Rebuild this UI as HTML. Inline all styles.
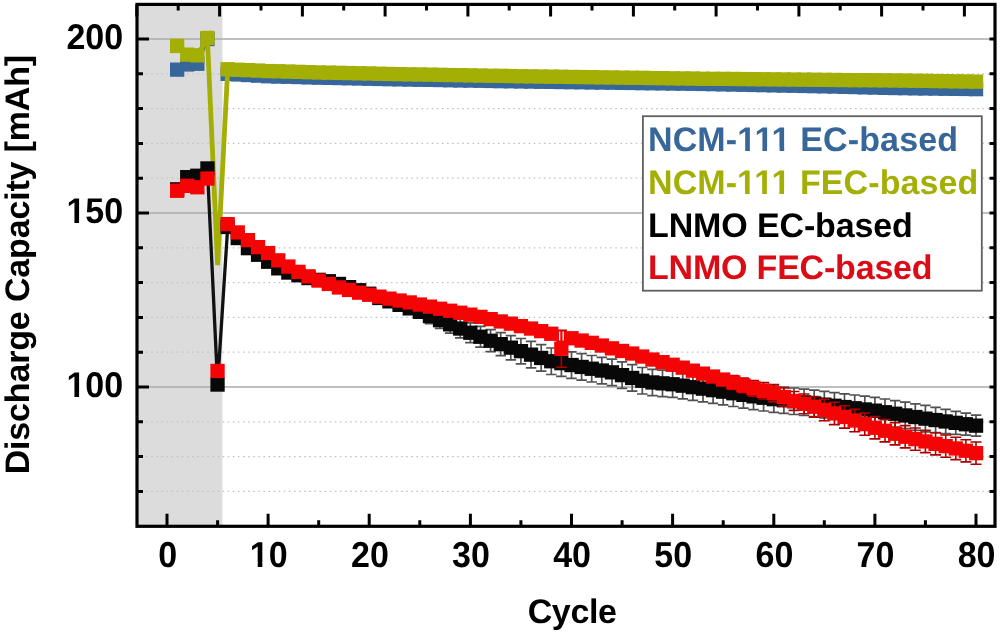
<!DOCTYPE html>
<html><head><meta charset="utf-8"><style>
html,body{margin:0;padding:0;background:#fff;}
svg{display:block;filter:blur(0.5px);}
.t{font-family:"Liberation Sans",Arial,sans-serif;font-weight:bold;text-rendering:geometricPrecision;}
</style></head><body>
<svg width="1000" height="634" viewBox="0 0 1000 634">
<rect x="137.0" y="4.4" width="85.4" height="521.9" fill="#dcdcdc"/>
<line x1="141.0" x2="995.0" y1="491.4" y2="491.4" stroke="#c2c2c2" stroke-width="1.3" stroke-dasharray="1.6 3.5"/>
<line x1="141.0" x2="995.0" y1="456.6" y2="456.6" stroke="#c2c2c2" stroke-width="1.3" stroke-dasharray="1.6 3.5"/>
<line x1="141.0" x2="995.0" y1="421.8" y2="421.8" stroke="#c2c2c2" stroke-width="1.3" stroke-dasharray="1.6 3.5"/>
<line x1="137.0" x2="995.0" y1="387.0" y2="387.0" stroke="#ababab" stroke-width="1.7"/>
<line x1="141.0" x2="995.0" y1="352.2" y2="352.2" stroke="#c2c2c2" stroke-width="1.3" stroke-dasharray="1.6 3.5"/>
<line x1="141.0" x2="995.0" y1="317.4" y2="317.4" stroke="#c2c2c2" stroke-width="1.3" stroke-dasharray="1.6 3.5"/>
<line x1="141.0" x2="995.0" y1="282.6" y2="282.6" stroke="#c2c2c2" stroke-width="1.3" stroke-dasharray="1.6 3.5"/>
<line x1="141.0" x2="995.0" y1="247.8" y2="247.8" stroke="#c2c2c2" stroke-width="1.3" stroke-dasharray="1.6 3.5"/>
<line x1="137.0" x2="995.0" y1="213.0" y2="213.0" stroke="#ababab" stroke-width="1.7"/>
<line x1="141.0" x2="995.0" y1="178.2" y2="178.2" stroke="#c2c2c2" stroke-width="1.3" stroke-dasharray="1.6 3.5"/>
<line x1="141.0" x2="995.0" y1="143.4" y2="143.4" stroke="#c2c2c2" stroke-width="1.3" stroke-dasharray="1.6 3.5"/>
<line x1="141.0" x2="995.0" y1="108.6" y2="108.6" stroke="#c2c2c2" stroke-width="1.3" stroke-dasharray="1.6 3.5"/>
<line x1="141.0" x2="995.0" y1="73.8" y2="73.8" stroke="#c2c2c2" stroke-width="1.3" stroke-dasharray="1.6 3.5"/>
<line x1="137.0" x2="995.0" y1="39.0" y2="39.0" stroke="#ababab" stroke-width="1.7"/>
<g fill="#37679a"><rect x="170.0" y="62.5" width="14.3" height="14.3"/><rect x="180.1" y="57.3" width="14.3" height="14.3"/><rect x="190.2" y="56.6" width="14.3" height="14.3"/><rect x="200.3" y="31.9" width="14.3" height="14.3"/><rect x="220.5" y="66.7" width="14.3" height="14.3"/><rect x="230.6" y="67.3" width="14.3" height="14.3"/><rect x="240.8" y="67.9" width="14.3" height="14.3"/><rect x="250.9" y="68.5" width="14.3" height="14.3"/><rect x="261.0" y="69.1" width="14.3" height="14.3"/><rect x="271.1" y="69.4" width="14.3" height="14.3"/><rect x="281.2" y="69.6" width="14.3" height="14.3"/><rect x="291.3" y="69.9" width="14.3" height="14.3"/><rect x="301.4" y="70.2" width="14.3" height="14.3"/><rect x="311.5" y="70.5" width="14.3" height="14.3"/><rect x="321.7" y="70.7" width="14.3" height="14.3"/><rect x="331.8" y="70.9" width="14.3" height="14.3"/><rect x="341.9" y="71.1" width="14.3" height="14.3"/><rect x="352.0" y="71.3" width="14.3" height="14.3"/><rect x="362.1" y="71.6" width="14.3" height="14.3"/><rect x="372.2" y="71.8" width="14.3" height="14.3"/><rect x="382.3" y="72.0" width="14.3" height="14.3"/><rect x="392.4" y="72.2" width="14.3" height="14.3"/><rect x="402.6" y="72.4" width="14.3" height="14.3"/><rect x="412.7" y="72.6" width="14.3" height="14.3"/><rect x="422.8" y="72.7" width="14.3" height="14.3"/><rect x="432.9" y="72.9" width="14.3" height="14.3"/><rect x="443.0" y="73.1" width="14.3" height="14.3"/><rect x="453.1" y="73.3" width="14.3" height="14.3"/><rect x="463.2" y="73.4" width="14.3" height="14.3"/><rect x="473.3" y="73.6" width="14.3" height="14.3"/><rect x="483.5" y="73.8" width="14.3" height="14.3"/><rect x="493.6" y="74.0" width="14.3" height="14.3"/><rect x="503.7" y="74.1" width="14.3" height="14.3"/><rect x="513.8" y="74.3" width="14.3" height="14.3"/><rect x="523.9" y="74.4" width="14.3" height="14.3"/><rect x="534.0" y="74.6" width="14.3" height="14.3"/><rect x="544.1" y="74.7" width="14.3" height="14.3"/><rect x="554.2" y="74.9" width="14.3" height="14.3"/><rect x="564.4" y="75.0" width="14.3" height="14.3"/><rect x="574.5" y="75.1" width="14.3" height="14.3"/><rect x="584.6" y="75.3" width="14.3" height="14.3"/><rect x="594.7" y="75.4" width="14.3" height="14.3"/><rect x="604.8" y="75.5" width="14.3" height="14.3"/><rect x="614.9" y="75.7" width="14.3" height="14.3"/><rect x="625.0" y="75.8" width="14.3" height="14.3"/><rect x="635.1" y="76.0" width="14.3" height="14.3"/><rect x="645.3" y="76.1" width="14.3" height="14.3"/><rect x="655.4" y="76.2" width="14.3" height="14.3"/><rect x="665.5" y="76.4" width="14.3" height="14.3"/><rect x="675.6" y="76.5" width="14.3" height="14.3"/><rect x="685.7" y="76.6" width="14.3" height="14.3"/><rect x="695.8" y="76.8" width="14.3" height="14.3"/><rect x="705.9" y="77.0" width="14.3" height="14.3"/><rect x="716.0" y="77.2" width="14.3" height="14.3"/><rect x="726.2" y="77.4" width="14.3" height="14.3"/><rect x="736.3" y="77.6" width="14.3" height="14.3"/><rect x="746.4" y="77.8" width="14.3" height="14.3"/><rect x="756.5" y="78.0" width="14.3" height="14.3"/><rect x="766.6" y="78.2" width="14.3" height="14.3"/><rect x="776.7" y="78.4" width="14.3" height="14.3"/><rect x="786.8" y="78.6" width="14.3" height="14.3"/><rect x="796.9" y="78.8" width="14.3" height="14.3"/><rect x="807.1" y="79.0" width="14.3" height="14.3"/><rect x="817.2" y="79.2" width="14.3" height="14.3"/><rect x="827.3" y="79.4" width="14.3" height="14.3"/><rect x="837.4" y="79.7" width="14.3" height="14.3"/><rect x="847.5" y="79.9" width="14.3" height="14.3"/><rect x="857.6" y="80.2" width="14.3" height="14.3"/><rect x="867.7" y="80.4" width="14.3" height="14.3"/><rect x="877.8" y="80.7" width="14.3" height="14.3"/><rect x="888.0" y="80.9" width="14.3" height="14.3"/><rect x="898.1" y="81.0" width="14.3" height="14.3"/><rect x="908.2" y="81.2" width="14.3" height="14.3"/><rect x="918.3" y="81.3" width="14.3" height="14.3"/><rect x="928.4" y="81.4" width="14.3" height="14.3"/><rect x="938.5" y="81.6" width="14.3" height="14.3"/><rect x="948.6" y="81.7" width="14.3" height="14.3"/><rect x="958.7" y="81.8" width="14.3" height="14.3"/><rect x="968.9" y="82.0" width="14.3" height="14.3"/></g>
<polyline points="177.1,69.6 187.2,64.4 197.3,63.7 207.4,39.0" fill="none" stroke="#37679a" stroke-width="4.0" stroke-linejoin="miter" stroke-miterlimit="10"/>
<polyline points="177.1,46.0 187.2,54.7 197.3,55.4 207.4,38.0 217.6,265.2 227.7,69.3" fill="none" stroke="#a4af05" stroke-width="4.8" stroke-linejoin="miter" stroke-miterlimit="10"/>
<g fill="#a4af05"><rect x="170.0" y="38.8" width="14.3" height="14.3"/><rect x="180.1" y="47.5" width="14.3" height="14.3"/><rect x="190.2" y="48.2" width="14.3" height="14.3"/><rect x="200.3" y="30.8" width="14.3" height="14.3"/><rect x="220.5" y="62.1" width="14.3" height="14.3"/><rect x="230.6" y="62.6" width="14.3" height="14.3"/><rect x="240.8" y="63.0" width="14.3" height="14.3"/><rect x="250.9" y="63.4" width="14.3" height="14.3"/><rect x="261.0" y="63.9" width="14.3" height="14.3"/><rect x="271.1" y="64.1" width="14.3" height="14.3"/><rect x="281.2" y="64.4" width="14.3" height="14.3"/><rect x="291.3" y="64.7" width="14.3" height="14.3"/><rect x="301.4" y="65.0" width="14.3" height="14.3"/><rect x="311.5" y="65.3" width="14.3" height="14.3"/><rect x="321.7" y="65.5" width="14.3" height="14.3"/><rect x="331.8" y="65.7" width="14.3" height="14.3"/><rect x="341.9" y="65.9" width="14.3" height="14.3"/><rect x="352.0" y="66.1" width="14.3" height="14.3"/><rect x="362.1" y="66.3" width="14.3" height="14.3"/><rect x="372.2" y="66.6" width="14.3" height="14.3"/><rect x="382.3" y="66.8" width="14.3" height="14.3"/><rect x="392.4" y="67.0" width="14.3" height="14.3"/><rect x="402.6" y="67.2" width="14.3" height="14.3"/><rect x="412.7" y="67.3" width="14.3" height="14.3"/><rect x="422.8" y="67.5" width="14.3" height="14.3"/><rect x="432.9" y="67.7" width="14.3" height="14.3"/><rect x="443.0" y="67.9" width="14.3" height="14.3"/><rect x="453.1" y="68.0" width="14.3" height="14.3"/><rect x="463.2" y="68.2" width="14.3" height="14.3"/><rect x="473.3" y="68.4" width="14.3" height="14.3"/><rect x="483.5" y="68.6" width="14.3" height="14.3"/><rect x="493.6" y="68.7" width="14.3" height="14.3"/><rect x="503.7" y="68.9" width="14.3" height="14.3"/><rect x="513.8" y="69.1" width="14.3" height="14.3"/><rect x="523.9" y="69.2" width="14.3" height="14.3"/><rect x="534.0" y="69.4" width="14.3" height="14.3"/><rect x="544.1" y="69.5" width="14.3" height="14.3"/><rect x="554.2" y="69.6" width="14.3" height="14.3"/><rect x="564.4" y="69.8" width="14.3" height="14.3"/><rect x="574.5" y="69.9" width="14.3" height="14.3"/><rect x="584.6" y="70.0" width="14.3" height="14.3"/><rect x="594.7" y="70.2" width="14.3" height="14.3"/><rect x="604.8" y="70.3" width="14.3" height="14.3"/><rect x="614.9" y="70.5" width="14.3" height="14.3"/><rect x="625.0" y="70.6" width="14.3" height="14.3"/><rect x="635.1" y="70.7" width="14.3" height="14.3"/><rect x="645.3" y="70.9" width="14.3" height="14.3"/><rect x="655.4" y="71.0" width="14.3" height="14.3"/><rect x="665.5" y="71.2" width="14.3" height="14.3"/><rect x="675.6" y="71.3" width="14.3" height="14.3"/><rect x="685.7" y="71.4" width="14.3" height="14.3"/><rect x="695.8" y="71.6" width="14.3" height="14.3"/><rect x="705.9" y="71.7" width="14.3" height="14.3"/><rect x="716.0" y="71.7" width="14.3" height="14.3"/><rect x="726.2" y="71.8" width="14.3" height="14.3"/><rect x="736.3" y="71.9" width="14.3" height="14.3"/><rect x="746.4" y="72.0" width="14.3" height="14.3"/><rect x="756.5" y="72.1" width="14.3" height="14.3"/><rect x="766.6" y="72.2" width="14.3" height="14.3"/><rect x="776.7" y="72.3" width="14.3" height="14.3"/><rect x="786.8" y="72.4" width="14.3" height="14.3"/><rect x="796.9" y="72.5" width="14.3" height="14.3"/><rect x="807.1" y="72.6" width="14.3" height="14.3"/><rect x="817.2" y="72.7" width="14.3" height="14.3"/><rect x="827.3" y="72.8" width="14.3" height="14.3"/><rect x="837.4" y="72.9" width="14.3" height="14.3"/><rect x="847.5" y="73.0" width="14.3" height="14.3"/><rect x="857.6" y="73.0" width="14.3" height="14.3"/><rect x="867.7" y="73.1" width="14.3" height="14.3"/><rect x="877.8" y="73.2" width="14.3" height="14.3"/><rect x="888.0" y="73.3" width="14.3" height="14.3"/><rect x="898.1" y="73.4" width="14.3" height="14.3"/><rect x="908.2" y="73.6" width="14.3" height="14.3"/><rect x="918.3" y="73.7" width="14.3" height="14.3"/><rect x="928.4" y="73.9" width="14.3" height="14.3"/><rect x="938.5" y="74.0" width="14.3" height="14.3"/><rect x="948.6" y="74.2" width="14.3" height="14.3"/><rect x="958.7" y="74.3" width="14.3" height="14.3"/><rect x="968.9" y="74.5" width="14.3" height="14.3"/></g>
<polyline points="177.1,189.3 187.2,177.2 197.3,175.8 207.4,168.5 217.6,384.6 227.7,226.9" fill="none" stroke="#111" stroke-width="3.3" stroke-linejoin="miter" stroke-miterlimit="10"/>
<path d="M429.9 308.4V323.7M424.7 308.4h10.5M424.7 323.7h10.5M440.0 312.0V328.4M434.8 312.0h10.5M434.8 328.4h10.5M450.2 315.6V333.1M444.9 315.6h10.5M444.9 333.1h10.5M460.3 319.2V337.9M455.0 319.2h10.5M455.0 337.9h10.5M470.4 322.8V342.6M465.1 322.8h10.5M465.1 342.6h10.5M480.5 326.3V347.2M475.2 326.3h10.5M475.2 347.2h10.5M490.6 329.7V351.7M485.4 329.7h10.5M485.4 351.7h10.5M500.7 332.6V355.7M495.5 332.6h10.5M495.5 355.7h10.5M510.8 335.6V359.8M505.6 335.6h10.5M505.6 359.8h10.5M520.9 338.5V363.8M515.7 338.5h10.5M515.7 363.8h10.5M531.0 341.4V367.9M525.8 341.4h10.5M525.8 367.9h10.5M541.2 344.7V371.2M535.9 344.7h10.5M535.9 371.2h10.5M551.3 348.0V374.5M546.0 348.0h10.5M546.0 374.5h10.5M561.4 349.9V376.4M556.1 349.9h10.5M556.1 376.4h10.5M571.5 351.9V378.3M566.2 351.9h10.5M566.2 378.3h10.5M581.6 353.7V380.1M576.4 353.7h10.5M576.4 380.1h10.5M591.7 355.5V382.0M586.5 355.5h10.5M586.5 382.0h10.5M601.8 357.3V383.8M596.6 357.3h10.5M596.6 383.8h10.5M612.0 359.2V385.6M606.7 359.2h10.5M606.7 385.6h10.5M622.1 361.9V388.4M616.8 361.9h10.5M616.8 388.4h10.5M632.2 364.7V391.2M626.9 364.7h10.5M626.9 391.2h10.5M642.3 367.5V394.0M637.0 367.5h10.5M637.0 394.0h10.5M652.4 369.3V395.7M647.2 369.3h10.5M647.2 395.7h10.5M662.5 370.1V396.6M657.3 370.1h10.5M657.3 396.6h10.5M672.6 371.0V397.4M667.4 371.0h10.5M667.4 397.4h10.5M682.7 372.5V398.9M677.5 372.5h10.5M677.5 398.9h10.5M692.9 374.0V400.4M687.6 374.0h10.5M687.6 400.4h10.5M703.0 375.4V401.9M697.7 375.4h10.5M697.7 401.9h10.5M713.1 376.9V403.4M707.8 376.9h10.5M707.8 403.4h10.5M723.2 378.5V404.9M717.9 378.5h10.5M717.9 404.9h10.5M733.3 380.0V406.5M728.1 380.0h10.5M728.1 406.5h10.5M743.4 381.6V408.1M738.2 381.6h10.5M738.2 408.1h10.5M753.5 383.2V409.6M748.3 383.2h10.5M748.3 409.6h10.5M763.6 384.6V411.0M758.4 384.6h10.5M758.4 411.0h10.5M773.8 386.0V412.4M768.5 386.0h10.5M768.5 412.4h10.5M783.9 387.0V413.4M778.6 387.0h10.5M778.6 413.4h10.5M794.0 388.0V414.5M788.7 388.0h10.5M788.7 414.5h10.5M804.1 389.1V415.5M798.8 389.1h10.5M798.8 415.5h10.5M814.2 390.2V416.7M809.0 390.2h10.5M809.0 416.7h10.5M824.3 391.4V417.9M819.1 391.4h10.5M819.1 417.9h10.5M834.4 392.6V419.0M829.2 392.6h10.5M829.2 419.0h10.5M844.5 393.8V420.2M839.3 393.8h10.5M839.3 420.2h10.5M854.7 395.0V421.5M849.4 395.0h10.5M849.4 421.5h10.5M864.8 396.2V422.7M859.5 396.2h10.5M859.5 422.7h10.5M874.9 397.4V423.9M869.6 397.4h10.5M869.6 423.9h10.5M885.0 399.0V425.5M879.7 399.0h10.5M879.7 425.5h10.5M895.1 400.6V427.0M889.9 400.6h10.5M889.9 427.0h10.5M905.2 402.2V428.6M900.0 402.2h10.5M900.0 428.6h10.5M915.3 403.8V430.3M910.1 403.8h10.5M910.1 430.3h10.5M925.4 405.4V431.9M920.2 405.4h10.5M920.2 431.9h10.5M935.6 407.4V432.7M930.3 407.4h10.5M930.3 432.7h10.5M945.7 409.3V433.6M940.4 409.3h10.5M940.4 433.6h10.5M955.8 411.3V434.4M950.5 411.3h10.5M950.5 434.4h10.5M965.9 413.2V435.2M960.6 413.2h10.5M960.6 435.2h10.5M976.0 415.2V436.1M970.8 415.2h10.5M970.8 436.1h10.5" stroke="#505050" stroke-width="1.7" fill="none"/>
<g fill="#080808"><rect x="170.0" y="182.2" width="14.3" height="14.3"/><rect x="180.1" y="170.0" width="14.3" height="14.3"/><rect x="190.2" y="168.6" width="14.3" height="14.3"/><rect x="200.3" y="161.3" width="14.3" height="14.3"/><rect x="210.4" y="377.4" width="14.3" height="14.3"/><rect x="220.5" y="219.8" width="14.3" height="14.3"/><rect x="230.6" y="230.9" width="14.3" height="14.3"/><rect x="240.8" y="241.0" width="14.3" height="14.3"/><rect x="250.9" y="247.6" width="14.3" height="14.3"/><rect x="261.0" y="254.6" width="14.3" height="14.3"/><rect x="271.1" y="261.2" width="14.3" height="14.3"/><rect x="281.2" y="265.4" width="14.3" height="14.3"/><rect x="291.3" y="268.1" width="14.3" height="14.3"/><rect x="301.4" y="270.9" width="14.3" height="14.3"/><rect x="311.5" y="272.7" width="14.3" height="14.3"/><rect x="321.7" y="274.1" width="14.3" height="14.3"/><rect x="331.8" y="276.8" width="14.3" height="14.3"/><rect x="341.9" y="280.0" width="14.3" height="14.3"/><rect x="352.0" y="283.1" width="14.3" height="14.3"/><rect x="362.1" y="286.6" width="14.3" height="14.3"/><rect x="372.2" y="290.8" width="14.3" height="14.3"/><rect x="382.3" y="294.2" width="14.3" height="14.3"/><rect x="392.4" y="297.7" width="14.3" height="14.3"/><rect x="402.6" y="301.2" width="14.3" height="14.3"/><rect x="412.7" y="304.7" width="14.3" height="14.3"/><rect x="422.8" y="308.9" width="14.3" height="14.3"/><rect x="432.9" y="313.0" width="14.3" height="14.3"/><rect x="443.0" y="317.2" width="14.3" height="14.3"/><rect x="453.1" y="321.4" width="14.3" height="14.3"/><rect x="463.2" y="325.6" width="14.3" height="14.3"/><rect x="473.3" y="329.6" width="14.3" height="14.3"/><rect x="483.5" y="333.6" width="14.3" height="14.3"/><rect x="493.6" y="337.0" width="14.3" height="14.3"/><rect x="503.7" y="340.5" width="14.3" height="14.3"/><rect x="513.8" y="344.0" width="14.3" height="14.3"/><rect x="523.9" y="347.5" width="14.3" height="14.3"/><rect x="534.0" y="350.8" width="14.3" height="14.3"/><rect x="544.1" y="354.1" width="14.3" height="14.3"/><rect x="554.2" y="356.0" width="14.3" height="14.3"/><rect x="564.4" y="357.9" width="14.3" height="14.3"/><rect x="574.5" y="359.8" width="14.3" height="14.3"/><rect x="584.6" y="361.6" width="14.3" height="14.3"/><rect x="594.7" y="363.4" width="14.3" height="14.3"/><rect x="604.8" y="365.2" width="14.3" height="14.3"/><rect x="614.9" y="368.0" width="14.3" height="14.3"/><rect x="625.0" y="370.8" width="14.3" height="14.3"/><rect x="635.1" y="373.6" width="14.3" height="14.3"/><rect x="645.3" y="375.3" width="14.3" height="14.3"/><rect x="655.4" y="376.2" width="14.3" height="14.3"/><rect x="665.5" y="377.1" width="14.3" height="14.3"/><rect x="675.6" y="378.5" width="14.3" height="14.3"/><rect x="685.7" y="380.0" width="14.3" height="14.3"/><rect x="695.8" y="381.5" width="14.3" height="14.3"/><rect x="705.9" y="383.0" width="14.3" height="14.3"/><rect x="716.0" y="384.5" width="14.3" height="14.3"/><rect x="726.2" y="386.1" width="14.3" height="14.3"/><rect x="736.3" y="387.7" width="14.3" height="14.3"/><rect x="746.4" y="389.2" width="14.3" height="14.3"/><rect x="756.5" y="390.6" width="14.3" height="14.3"/><rect x="766.6" y="392.0" width="14.3" height="14.3"/><rect x="776.7" y="393.1" width="14.3" height="14.3"/><rect x="786.8" y="394.1" width="14.3" height="14.3"/><rect x="796.9" y="395.2" width="14.3" height="14.3"/><rect x="807.1" y="396.3" width="14.3" height="14.3"/><rect x="817.2" y="397.5" width="14.3" height="14.3"/><rect x="827.3" y="398.6" width="14.3" height="14.3"/><rect x="837.4" y="399.9" width="14.3" height="14.3"/><rect x="847.5" y="401.1" width="14.3" height="14.3"/><rect x="857.6" y="402.3" width="14.3" height="14.3"/><rect x="867.7" y="403.5" width="14.3" height="14.3"/><rect x="877.8" y="405.1" width="14.3" height="14.3"/><rect x="888.0" y="406.6" width="14.3" height="14.3"/><rect x="898.1" y="408.3" width="14.3" height="14.3"/><rect x="908.2" y="409.9" width="14.3" height="14.3"/><rect x="918.3" y="411.5" width="14.3" height="14.3"/><rect x="928.4" y="412.9" width="14.3" height="14.3"/><rect x="938.5" y="414.3" width="14.3" height="14.3"/><rect x="948.6" y="415.7" width="14.3" height="14.3"/><rect x="958.7" y="417.1" width="14.3" height="14.3"/><rect x="968.9" y="418.5" width="14.3" height="14.3"/></g>
<path d="M561.4 330.3V367.2M555.9 330.3h11M555.9 367.2h11M733.3 375.5V389.4M727.8 375.5h11M727.8 389.4h11M743.4 378.1V392.8M737.9 378.1h11M737.9 392.8h11M753.5 380.6V396.2M748.0 380.6h11M748.0 396.2h11M763.6 382.6V399.0M758.1 382.6h11M758.1 399.0h11M773.8 384.6V401.9M768.2 384.6h11M768.2 401.9h11M783.9 388.0V406.1M778.4 388.0h11M778.4 406.1h11M794.0 391.5V410.4M788.5 391.5h11M788.5 410.4h11M804.1 394.0V413.7M798.6 394.0h11M798.6 413.7h11M814.2 396.5V417.1M808.7 396.5h11M808.7 417.1h11M824.3 399.2V420.7M818.8 399.2h11M818.8 420.7h11M834.4 402.3V424.6M828.9 402.3h11M828.9 424.6h11M844.5 405.8V428.1M839.0 405.8h11M839.0 428.1h11M854.7 409.4V431.7M849.2 409.4h11M849.2 431.7h11M864.8 413.0V435.3M859.3 413.0h11M859.3 435.3h11M874.9 416.6V438.9M869.4 416.6h11M869.4 438.9h11M885.0 419.6V441.9M879.5 419.6h11M879.5 441.9h11M895.1 422.6V444.9M889.6 422.6h11M889.6 444.9h11M905.2 425.6V447.9M899.7 425.6h11M899.7 447.9h11M915.3 428.0V450.2M909.8 428.0h11M909.8 450.2h11M925.4 430.3V452.6M919.9 430.3h11M919.9 452.6h11M935.6 432.7V454.9M930.1 432.7h11M930.1 454.9h11M945.7 435.0V457.3M940.2 435.0h11M940.2 457.3h11M955.8 437.3V459.6M950.3 437.3h11M950.3 459.6h11M965.9 439.7V461.9M960.4 439.7h11M960.4 461.9h11M976.0 442.0V464.3M970.5 442.0h11M970.5 464.3h11" stroke="#a00" stroke-width="1.6" fill="none"/>
<rect x="556.4" y="330.6" width="10" height="18.1" fill="#f40404"/>
<path d="M559.6 331.6v9M563.2 331.6v9" stroke="#fff" stroke-width="1.3"/>
<g fill="#f40404"><rect x="170.0" y="183.6" width="14.3" height="14.3"/><rect x="180.1" y="178.7" width="14.3" height="14.3"/><rect x="190.2" y="180.1" width="14.3" height="14.3"/><rect x="200.3" y="171.4" width="14.3" height="14.3"/><rect x="210.4" y="363.8" width="14.3" height="14.3"/><rect x="220.5" y="217.0" width="14.3" height="14.3"/><rect x="230.6" y="225.3" width="14.3" height="14.3"/><rect x="240.8" y="233.0" width="14.3" height="14.3"/><rect x="250.9" y="240.0" width="14.3" height="14.3"/><rect x="261.0" y="245.9" width="14.3" height="14.3"/><rect x="271.1" y="253.2" width="14.3" height="14.3"/><rect x="281.2" y="259.4" width="14.3" height="14.3"/><rect x="291.3" y="264.7" width="14.3" height="14.3"/><rect x="301.4" y="269.2" width="14.3" height="14.3"/><rect x="311.5" y="273.4" width="14.3" height="14.3"/><rect x="321.7" y="276.8" width="14.3" height="14.3"/><rect x="331.8" y="280.3" width="14.3" height="14.3"/><rect x="341.9" y="282.8" width="14.3" height="14.3"/><rect x="352.0" y="285.5" width="14.3" height="14.3"/><rect x="362.1" y="287.6" width="14.3" height="14.3"/><rect x="372.2" y="289.5" width="14.3" height="14.3"/><rect x="382.3" y="291.5" width="14.3" height="14.3"/><rect x="392.4" y="293.4" width="14.3" height="14.3"/><rect x="402.6" y="295.3" width="14.3" height="14.3"/><rect x="412.7" y="297.4" width="14.3" height="14.3"/><rect x="422.8" y="299.5" width="14.3" height="14.3"/><rect x="432.9" y="301.6" width="14.3" height="14.3"/><rect x="443.0" y="303.6" width="14.3" height="14.3"/><rect x="453.1" y="305.6" width="14.3" height="14.3"/><rect x="463.2" y="307.5" width="14.3" height="14.3"/><rect x="473.3" y="309.7" width="14.3" height="14.3"/><rect x="483.5" y="312.0" width="14.3" height="14.3"/><rect x="493.6" y="314.3" width="14.3" height="14.3"/><rect x="503.7" y="316.5" width="14.3" height="14.3"/><rect x="513.8" y="319.0" width="14.3" height="14.3"/><rect x="523.9" y="321.4" width="14.3" height="14.3"/><rect x="534.0" y="324.0" width="14.3" height="14.3"/><rect x="544.1" y="326.6" width="14.3" height="14.3"/><rect x="554.2" y="341.6" width="14.3" height="14.3"/><rect x="564.4" y="331.1" width="14.3" height="14.3"/><rect x="574.5" y="333.4" width="14.3" height="14.3"/><rect x="584.6" y="335.7" width="14.3" height="14.3"/><rect x="594.7" y="338.4" width="14.3" height="14.3"/><rect x="604.8" y="341.2" width="14.3" height="14.3"/><rect x="614.9" y="343.8" width="14.3" height="14.3"/><rect x="625.0" y="346.4" width="14.3" height="14.3"/><rect x="635.1" y="349.4" width="14.3" height="14.3"/><rect x="645.3" y="352.4" width="14.3" height="14.3"/><rect x="655.4" y="355.0" width="14.3" height="14.3"/><rect x="665.5" y="357.6" width="14.3" height="14.3"/><rect x="675.6" y="360.5" width="14.3" height="14.3"/><rect x="685.7" y="363.5" width="14.3" height="14.3"/><rect x="695.8" y="366.5" width="14.3" height="14.3"/><rect x="705.9" y="369.4" width="14.3" height="14.3"/><rect x="716.0" y="372.4" width="14.3" height="14.3"/><rect x="726.2" y="375.3" width="14.3" height="14.3"/><rect x="736.3" y="378.3" width="14.3" height="14.3"/><rect x="746.4" y="381.2" width="14.3" height="14.3"/><rect x="756.5" y="383.7" width="14.3" height="14.3"/><rect x="766.6" y="386.1" width="14.3" height="14.3"/><rect x="776.7" y="389.9" width="14.3" height="14.3"/><rect x="786.8" y="393.8" width="14.3" height="14.3"/><rect x="796.9" y="396.7" width="14.3" height="14.3"/><rect x="807.1" y="399.6" width="14.3" height="14.3"/><rect x="817.2" y="402.8" width="14.3" height="14.3"/><rect x="827.3" y="406.3" width="14.3" height="14.3"/><rect x="837.4" y="409.8" width="14.3" height="14.3"/><rect x="847.5" y="413.4" width="14.3" height="14.3"/><rect x="857.6" y="417.0" width="14.3" height="14.3"/><rect x="867.7" y="420.6" width="14.3" height="14.3"/><rect x="877.8" y="423.6" width="14.3" height="14.3"/><rect x="888.0" y="426.6" width="14.3" height="14.3"/><rect x="898.1" y="429.6" width="14.3" height="14.3"/><rect x="908.2" y="432.0" width="14.3" height="14.3"/><rect x="918.3" y="434.3" width="14.3" height="14.3"/><rect x="928.4" y="436.7" width="14.3" height="14.3"/><rect x="938.5" y="439.0" width="14.3" height="14.3"/><rect x="948.6" y="441.3" width="14.3" height="14.3"/><rect x="958.7" y="443.6" width="14.3" height="14.3"/><rect x="968.9" y="446.0" width="14.3" height="14.3"/></g>
<path d="M167.0 526.3v-12.5M217.6 526.3v-6M268.1 526.3v-12.5M318.7 526.3v-6M369.2 526.3v-12.5M419.8 526.3v-6M470.4 526.3v-12.5M520.9 526.3v-6M571.5 526.3v-12.5M622.1 526.3v-6M672.6 526.3v-12.5M723.2 526.3v-6M773.8 526.3v-12.5M824.3 526.3v-6M874.9 526.3v-12.5M925.4 526.3v-6M976.0 526.3v-12.5M136.8 4.4v12M178.2 4.4v6.2M219.6 4.4v12M261.0 4.4v6.2M302.4 4.4v12M343.7 4.4v6.2M385.1 4.4v12M426.5 4.4v6.2M467.9 4.4v12M509.2 4.4v6.2M550.6 4.4v12M592.0 4.4v6.2M633.4 4.4v12M674.7 4.4v6.2M716.1 4.4v12M757.5 4.4v6.2M798.9 4.4v12M840.2 4.4v6.2M881.6 4.4v12M923.0 4.4v6.2M964.4 4.4v12M137.0 491.4h6M995.0 491.4h-5.5M137.0 456.6h6M995.0 456.6h-5.5M137.0 421.8h6M995.0 421.8h-5.5M137.0 387.0h12M995.0 387.0h-5.5M137.0 352.2h6M995.0 352.2h-5.5M137.0 317.4h6M995.0 317.4h-5.5M137.0 282.6h6M995.0 282.6h-5.5M137.0 247.8h6M995.0 247.8h-5.5M137.0 213.0h12M995.0 213.0h-5.5M137.0 178.2h6M995.0 178.2h-5.5M137.0 143.4h6M995.0 143.4h-5.5M137.0 108.6h6M995.0 108.6h-5.5M137.0 73.8h6M995.0 73.8h-5.5M137.0 39.0h12M995.0 39.0h-5.5" stroke="#000" stroke-width="3" fill="none"/>
<rect x="137.0" y="4.4" width="858.0" height="521.9" fill="none" stroke="#000" stroke-width="3.2"/>
<rect x="642.9" y="116.2" width="338.9" height="174.5" fill="#fff" stroke="#606060" stroke-width="1.8"/>
<g transform="translate(648 151)"><text id="t1" x="0" y="0" class="t" font-size="34" fill="#37679a" textLength="310">NCM-111 EC-based</text><rect x="89.94" y="-3.98" width="7.27" height="5.06" fill="#fff"/><rect x="101.87" y="-3.98" width="6.08" height="5.06" fill="#fff"/><rect x="107.11" y="-3.98" width="7.27" height="5.06" fill="#fff"/><rect x="119.04" y="-3.98" width="6.08" height="5.06" fill="#fff"/><rect x="124.28" y="-3.98" width="7.27" height="5.06" fill="#fff"/><rect x="136.21" y="-3.98" width="6.08" height="5.06" fill="#fff"/></g>
<g transform="translate(648 194.0)"><text id="t2" x="0" y="0" class="t" font-size="34" fill="#a4af05" textLength="330.3">NCM-111 FEC-based</text><rect x="89.79" y="-3.98" width="7.27" height="5.06" fill="#fff"/><rect x="101.72" y="-3.98" width="6.08" height="5.06" fill="#fff"/><rect x="106.92" y="-3.98" width="7.27" height="5.06" fill="#fff"/><rect x="118.85" y="-3.98" width="6.08" height="5.06" fill="#fff"/><rect x="124.05" y="-3.98" width="7.27" height="5.06" fill="#fff"/><rect x="135.99" y="-3.98" width="6.08" height="5.06" fill="#fff"/></g>
<g transform="translate(648 236.6)"><text id="t3" x="0" y="0" class="t" font-size="34" fill="#000" textLength="264.9">LNMO EC-based</text></g>
<g transform="translate(648 279.0)"><text id="t4" x="0" y="0" class="t" font-size="34" fill="#dc0c16" textLength="284.6">LNMO FEC-based</text></g>
<g transform="translate(167.6 566.6) scale(1 1.06)"><text id="t5" x="0" y="0" class="t" font-size="34" text-anchor="middle">0</text></g>
<g transform="translate(268.7 566.6) scale(1 1.06)"><text id="t6" x="0" y="0" class="t" font-size="34" text-anchor="middle">10</text><rect x="-18.25" y="-3.98" width="7.27" height="5.06" fill="#fff"/><rect x="-6.31" y="-3.98" width="6.08" height="5.06" fill="#fff"/></g>
<g transform="translate(369.9 566.6) scale(1 1.06)"><text id="t7" x="0" y="0" class="t" font-size="34" text-anchor="middle">20</text></g>
<g transform="translate(471.0 566.6) scale(1 1.06)"><text id="t8" x="0" y="0" class="t" font-size="34" text-anchor="middle">30</text></g>
<g transform="translate(572.1 566.6) scale(1 1.06)"><text id="t9" x="0" y="0" class="t" font-size="34" text-anchor="middle">40</text></g>
<g transform="translate(673.2 566.6) scale(1 1.06)"><text id="t10" x="0" y="0" class="t" font-size="34" text-anchor="middle">50</text></g>
<g transform="translate(774.4 566.6) scale(1 1.06)"><text id="t11" x="0" y="0" class="t" font-size="34" text-anchor="middle">60</text></g>
<g transform="translate(875.5 566.6) scale(1 1.06)"><text id="t12" x="0" y="0" class="t" font-size="34" text-anchor="middle">70</text></g>
<g transform="translate(976.6 566.6) scale(1 1.06)"><text id="t13" x="0" y="0" class="t" font-size="34" text-anchor="middle">80</text></g>
<g transform="translate(123.2 397.2) scale(1 1.05)"><text id="t14" x="0" y="0" class="t" font-size="34" text-anchor="end">100</text><rect x="-56.07" y="-3.98" width="7.27" height="5.06" fill="#fff"/><rect x="-44.13" y="-3.98" width="6.08" height="5.06" fill="#fff"/></g>
<g transform="translate(123.2 223.2) scale(1 1.05)"><text id="t15" x="0" y="0" class="t" font-size="34" text-anchor="end">150</text><rect x="-56.07" y="-3.98" width="7.27" height="5.06" fill="#fff"/><rect x="-44.13" y="-3.98" width="6.08" height="5.06" fill="#fff"/></g>
<g transform="translate(123.2 49.2) scale(1 1.05)"><text id="t16" x="0" y="0" class="t" font-size="34" text-anchor="end">200</text></g>
<g transform="translate(572.3 623.2)"><text id="t17" x="0" y="0" class="t" font-size="34" text-anchor="middle" textLength="89.3">Cycle</text></g>
<g transform="translate(28.6 264.6) rotate(-90)"><text id="t18" x="0" y="0" class="t" font-size="34" text-anchor="middle" textLength="419.5">Discharge Capacity [mAh]</text></g>
</svg>
</body></html>
